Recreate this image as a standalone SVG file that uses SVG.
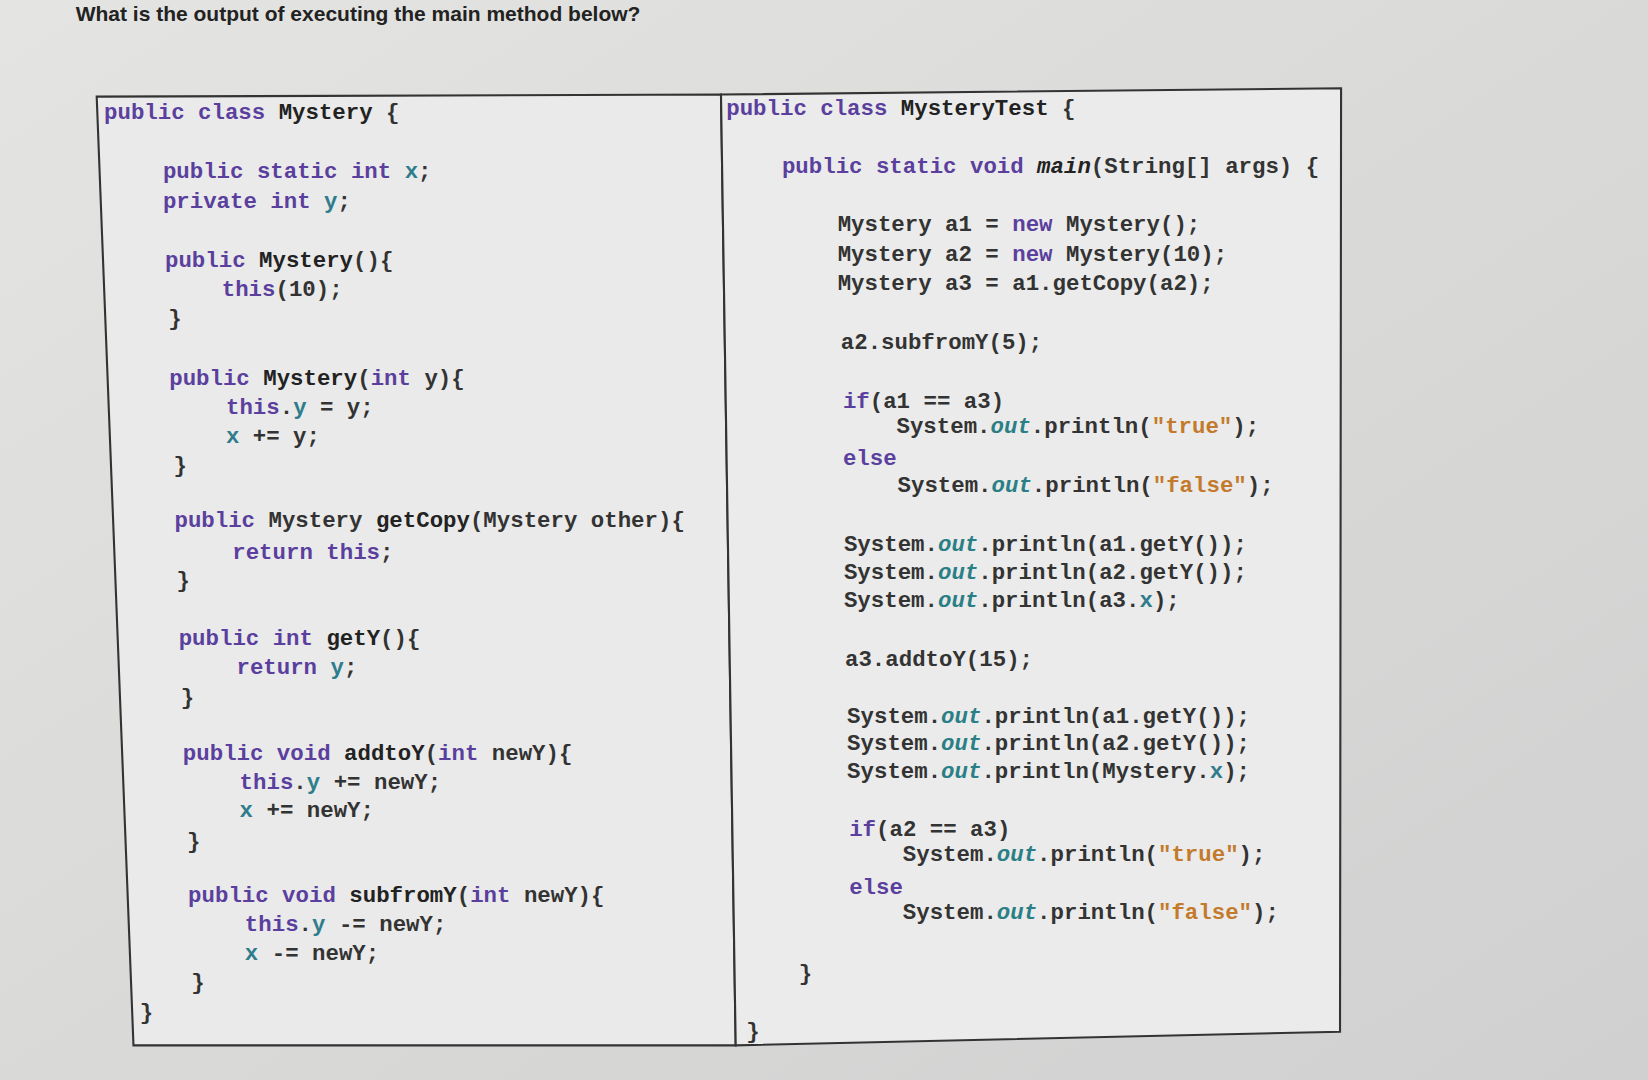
<svg xmlns="http://www.w3.org/2000/svg" width="1648" height="1080" viewBox="0 0 1648 1080">
<style>
.c{font-family:"Liberation Mono","DejaVu Sans Mono",monospace;font-size:21.3px;fill:#333;font-weight:bold}
.k{fill:#5b3f9e}
.f{fill:#2f7d8c}
.s{fill:#c47a2c}
.o{fill:#2a7f86;font-style:italic}
.n{fill:#222}
</style>
<defs>
<linearGradient id="bg" x1="0" y1="0" x2="1" y2="1">
<stop offset="0" stop-color="#e4e4e2"/><stop offset="1" stop-color="#cfd0cf"/>
</linearGradient>
</defs>
<rect width="1648" height="1080" fill="url(#bg)"/>
<g transform="scale(1.051,1.0506)">
<text x="72" y="20" font-family="Liberation Sans,Arial,sans-serif" font-size="20" font-weight="bold" fill="#222">What is the output of executing the main method below?</text>
<g id="mystery">
<polygon points="92,92 686,90 700,995 127,995" fill="#e9eae9" stroke="#333" stroke-width="2"/>
<text class="c"><tspan x="99" y="113"><tspan class="k">public class </tspan><tspan class="n">Mystery</tspan> {</tspan>
<tspan x="155" y="169"><tspan class="k">public static int </tspan><tspan class="f">x</tspan>;</tspan>
<tspan x="155" y="198"><tspan class="k">private int </tspan><tspan class="f">y</tspan>;</tspan>
<tspan x="157" y="254"><tspan class="k">public </tspan><tspan class="n">Mystery</tspan>(){</tspan>
<tspan x="211" y="282"><tspan class="k">this</tspan>(10);</tspan>
<tspan x="160" y="309">}</tspan>
<tspan x="161" y="366"><tspan class="k">public </tspan><tspan class="n">Mystery</tspan>(<tspan class="k">int</tspan> y){</tspan>
<tspan x="215" y="394"><tspan class="k">this</tspan>.<tspan class="f">y</tspan> = y;</tspan>
<tspan x="215" y="422"><tspan class="f">x</tspan> += y;</tspan>
<tspan x="165" y="449">}</tspan>
<tspan x="166" y="502"><tspan class="k">public </tspan>Mystery <tspan class="n">getCopy</tspan>(Mystery other){</tspan>
<tspan x="221" y="532"><tspan class="k">return this</tspan>;</tspan>
<tspan x="168" y="559">}</tspan>
<tspan x="170" y="614"><tspan class="k">public int </tspan><tspan class="n">getY</tspan>(){</tspan>
<tspan x="225" y="642"><tspan class="k">return </tspan><tspan class="f">y</tspan>;</tspan>
<tspan x="172" y="670">}</tspan>
<tspan x="174" y="723"><tspan class="k">public void </tspan><tspan class="n">addtoY</tspan>(<tspan class="k">int</tspan> newY){</tspan>
<tspan x="228" y="751"><tspan class="k">this</tspan>.<tspan class="f">y</tspan> += newY;</tspan>
<tspan x="228" y="778"><tspan class="f">x</tspan> += newY;</tspan>
<tspan x="178" y="807">}</tspan>
<tspan x="179" y="859"><tspan class="k">public void </tspan><tspan class="n">subfromY</tspan>(<tspan class="k">int</tspan> newY){</tspan>
<tspan x="233" y="886"><tspan class="k">this</tspan>.<tspan class="f">y</tspan> -= newY;</tspan>
<tspan x="233" y="914"><tspan class="f">x</tspan> -= newY;</tspan>
<tspan x="182" y="941">}</tspan>
<tspan x="133" y="970">}</tspan></text>
</g>
<g id="mysterytest">
<polygon points="686,90 1276,84 1275,982 700,995" fill="#eaebea" stroke="#333" stroke-width="2"/>
<text class="c"><tspan x="691" y="109"><tspan class="k">public class </tspan><tspan class="n">MysteryTest</tspan> {</tspan>
<tspan x="744" y="165"><tspan class="k">public static void </tspan><tspan class="n" font-style="italic">main</tspan>(String[] args) {</tspan>
<tspan x="797" y="220">Mystery a1 = <tspan class="k">new</tspan> Mystery();</tspan>
<tspan x="797" y="248">Mystery a2 = <tspan class="k">new</tspan> Mystery(10);</tspan>
<tspan x="797" y="276">Mystery a3 = a1.getCopy(a2);</tspan>
<tspan x="800" y="332">a2.subfromY(5);</tspan>
<tspan x="802" y="388"><tspan class="k">if</tspan>(a1 == a3)</tspan>
<tspan x="853" y="412">System.<tspan class="o">out</tspan>.println(<tspan class="s">"true"</tspan>);</tspan>
<tspan x="802" y="443"><tspan class="k">else</tspan></tspan>
<tspan x="854" y="468">System.<tspan class="o">out</tspan>.println(<tspan class="s">"false"</tspan>);</tspan>
<tspan x="803" y="524">System.<tspan class="o">out</tspan>.println(a1.getY());</tspan>
<tspan x="803" y="551">System.<tspan class="o">out</tspan>.println(a2.getY());</tspan>
<tspan x="803" y="578">System.<tspan class="o">out</tspan>.println(a3.<tspan class="f">x</tspan>);</tspan>
<tspan x="804" y="634">a3.addtoY(15);</tspan>
<tspan x="806" y="688">System.<tspan class="o">out</tspan>.println(a1.getY());</tspan>
<tspan x="806" y="714">System.<tspan class="o">out</tspan>.println(a2.getY());</tspan>
<tspan x="806" y="741">System.<tspan class="o">out</tspan>.println(Mystery.<tspan class="f">x</tspan>);</tspan>
<tspan x="808" y="796"><tspan class="k">if</tspan>(a2 == a3)</tspan>
<tspan x="859" y="820">System.<tspan class="o">out</tspan>.println(<tspan class="s">"true"</tspan>);</tspan>
<tspan x="808" y="851"><tspan class="k">else</tspan></tspan>
<tspan x="859" y="875">System.<tspan class="o">out</tspan>.println(<tspan class="s">"false"</tspan>);</tspan>
<tspan x="760" y="933">}</tspan>
<tspan x="710" y="988">}</tspan></text>
</g>
</g>
</svg>
